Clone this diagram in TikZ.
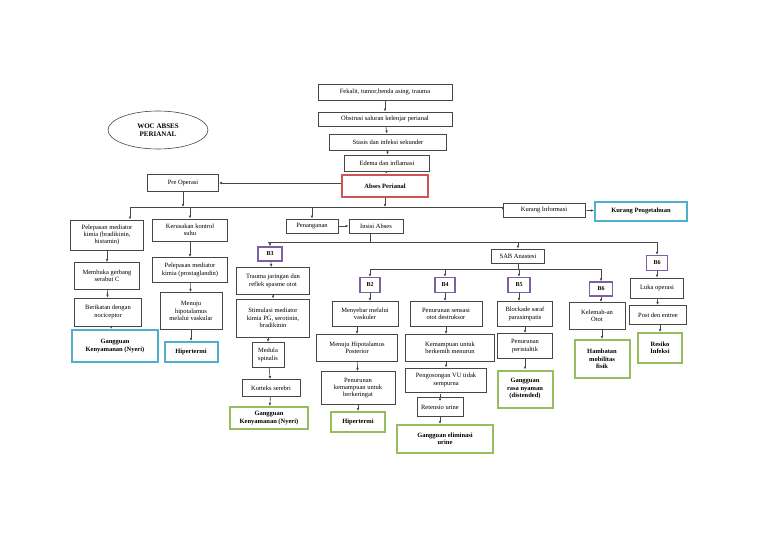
\documentclass[tikz,border=0pt]{standalone}
\usepackage{fontspec}
\setmainfont{Liberation Serif}
\usetikzlibrary{arrows.meta,shapes.geometric}
\definecolor{cyanb}{RGB}{80,175,205}
\definecolor{greenb}{RGB}{150,190,95}
\definecolor{purpb}{RGB}{125,95,165}
\definecolor{redb}{RGB}{205,85,85}
\definecolor{lineg}{RGB}{70,70,70}
\tikzset{
 bx/.style={draw=lineg,line width=0.8pt,fill=white,align=center,inner sep=1pt,font=\fontsize{6.5}{7.3}\selectfont},
 cy/.style={bx,draw=cyanb,line width=2pt,font=\fontsize{6.5}{7.5}\selectfont\bfseries},
 gr/.style={bx,draw=greenb,line width=2pt,font=\fontsize{6.5}{7.5}\selectfont\bfseries},
 bb/.style={bx,draw=purpb,line width=1.3pt,font=\fontsize{6}{7}\selectfont\bfseries},
 rd/.style={bx,draw=redb,line width=2pt,font=\fontsize{6.5}{7.5}\selectfont\bfseries},
 arr/.style={-{Latex[length=3pt,width=2.6pt]},line width=0.6pt,draw=lineg},
 ln/.style={line width=0.6pt,draw=lineg},
}
\newcommand{\bxn}[6]{\node[#1,minimum width=#4pt,minimum height=#5pt] (#2) at (#3) {#6};}
\begin{document}
\begin{tikzpicture}[x=1pt,y=-1pt]
\useasboundingbox (0,0) rectangle (768,543);
\fill[white] (0,0) rectangle (768,543);
\node[ellipse,draw=lineg,line width=0.6pt,minimum width=100pt,minimum height=38pt,align=center,font=\fontsize{7}{8}\selectfont\bfseries] (woc) at (158,130) {WOC ABSES\\PERIANAL};
\bxn{bx}{fek}{385,92}{134}{16}{Fekalit, tumor,benda asing, trauma}
\bxn{bx}{obs}{385,119}{134}{14}{Obstrusi saluran kelenjar perianal}
\bxn{bx}{sta}{388,142}{117}{16}{Stasis dan infeksi sekunder}
\bxn{bx}{ede}{387,163}{85}{16}{Edema dan inflamasi}
\bxn{rd}{abs}{385,186}{86}{22}{Abses Perianal}
\bxn{bx}{pre}{183,183}{71}{17}{Pre Operasi}
\bxn{bx}{pm1}{107,235}{73}{30}{Pelepasan mediator\\kimia (bradikinin,\\histamin)}
\bxn{bx}{kes}{190,230}{75}{22}{Kerusakan kontrol\\suhu}
\bxn{bx}{mbk}{107,276}{65}{27}{Membuka gerbang\\serabut C}
\bxn{bx}{ber}{108,312}{67}{28}{Berikatan dengan\\nociceptor}
\bxn{cy}{gk1}{115,346}{86}{32}{Gangguan\\Kenyamanan (Nyeri)}
\bxn{bx}{pm2}{190,270}{75}{25}{Pelepasan mediator\\kimia (prostaglandin)}
\bxn{bx}{mhv}{191,311}{62}{37}{Menuju\\hipotalamus\\melalui vaskular}
\bxn{cy}{hp1}{191,352}{53}{20}{Hipertermi}
\bxn{bx}{pen}{312,226}{52}{14}{Penanganan}
\bxn{bx}{ins}{376,226}{54}{14}{Insisi Abses}
\bxn{bx}{kin}{544,210}{82}{14}{Kurang Informasi}
\bxn{cy}{kpg}{641,211}{92}{19}{Kurang Pengetahuan}
\bxn{bb}{b3}{270,254}{24}{14}{B3}
\bxn{bx}{tra}{273,281}{73}{27}{Trauma jaringan dan\\reflek spasme otot}
\bxn{bx}{sti}{273,318}{73}{38}{Stimulasi mediator\\kimia PG, serotinin,\\bradikinin}
\bxn{bx}{med}{268,355}{32}{25}{Medula\\spinalis}
\bxn{bx}{kor}{271,388}{58}{17}{Korteks serebri}
\bxn{gr}{gk2}{269,418}{78}{22}{Gangguan\\Kenyamanan (Nyeri)}
\bxn{bx}{sab}{518,256}{53}{14}{SAB Anastesi}
\bxn{bb}{b2}{370,285}{20}{15}{B2}
\bxn{bx}{myb}{365,314}{66}{25}{Menyebar melalui\\vaskuler}
\bxn{bx}{mhp}{357,348}{81}{27}{Menuju Hipotalamus\\Posterior}
\bxn{bx}{pkb}{358,388}{74}{33}{Penurunan\\kemampuan untuk\\berkeringat}
\bxn{gr}{hp2}{358,422}{54}{20}{Hipertermi}
\bxn{bb}{b4}{445,285}{20}{15}{B4}
\bxn{bx}{pso}{446,314}{72}{25}{Penurunan sensasi\\otot destruksor}
\bxn{bx}{kbm}{450,348}{89}{27}{Kemampuan untuk\\berkemih menurun}
\bxn{bx}{pvu}{446,380}{81}{24}{Pengosongan VU tidak\\sempurna}
\bxn{bx}{ret}{440,407}{46}{19}{Retensio urine}
\bxn{gr}{gel}{445,439}{96}{28}{Gangguan eliminasi\\urine}
\bxn{bb}{b5}{519,285}{22}{15}{B5}
\bxn{bx}{blo}{525,314}{55}{25}{Blockade saraf\\parasimpatis}
\bxn{bx}{ppr}{525,346}{55}{25}{Penurunan\\peristaltik}
\bxn{gr}{grn}{525,389}{55}{37}{Gangguan\\rasa nyaman\\(distended)}
\bxn{bb}{b6a}{601,289}{23}{14}{B6}
\bxn{bx}{kel}{597,316}{56}{27}{Kelemah-an\\Otot}
\bxn{gr}{ham}{602,359}{55}{38}{Hambatan\\mobilitas\\fisik}
\bxn{bb}{b6b}{657,263}{21}{15}{B6}
\bxn{bx}{luk}{657,288}{53}{20}{Luka operasi}
\bxn{bx}{pde}{658,315}{57}{19}{Post den entree}
\bxn{gr}{rin}{660,348}{44}{30}{Resiko\\Infeksi}
% top chain
\draw[arr] (fek) -- (obs);
\draw[arr] (obs) -- (sta);
\draw[arr] (sta) -- (ede);
\draw[arr] (ede) -- (abs);
\draw[arr] (abs.west |- pre) -- (pre.east);
% main bus
\coordinate (bL) at (130,207);
\coordinate (bR) at (kin.west |- 0,207);
\draw[ln] (bL) -- (bR);
\draw[arr] (kin.west |- 0,207) -- (kin.west);
\draw[arr] (abs.south) -- (abs.south |- bL);
\draw[arr] (pre.south) -- (pre.south |- bL);
\draw[arr] (bL) -- (bL |- pm1.north);
\draw[arr] (kes.north |- bL) -- (kes.north);
\draw[arr] (pen.north |- bL) -- (pen.north);
\draw[arr] (pen) -- (ins);
\draw[arr] (kin) -- (kpg);
% left columns
\draw[arr] (pm1) -- (mbk);
\draw[arr] (mbk) -- (ber);
\draw[arr] (ber) -- (gk1);
\draw[arr] (kes) -- (pm2);
\draw[arr] (pm2) -- (mhv);
\draw[arr] (mhv) -- (hp1);
% bus 2
\coordinate (c1) at (268,242);
\coordinate (c2) at (657,242);
\draw[ln] (ins.south -| 370,0) -- (370,242);
\draw[ln] (c1) -- (c2);
\draw[arr] (b3.north |- c1) -- (b3.north);
\draw[arr] (sab.north |- c1) -- (sab.north);
\draw[arr] (b6b.north |- c1) -- (b6b.north);
\draw[arr] (b3) -- (tra);
\draw[arr] (tra) -- (sti);
\draw[arr] (sti.south -| med) -- (med);
\draw[arr] (med) -- (kor);
\draw[arr] (kor) -- (gk2);
% bus 3
\coordinate (d1) at (370,269);
\coordinate (d2) at (601,269);
\draw[ln] (sab) -- (sab |- d1);
\draw[ln] (d1) -- (d2);
\draw[arr] (b2.north |- d1) -- (b2.north);
\draw[arr] (b4.north |- d1) -- (b4.north);
\draw[arr] (b5.north |- d1) -- (b5.north);
\draw[arr] (b6a.north |- d1) -- (b6a.north);
\draw[arr] (b2) -- (b2 |- myb.north);
\draw[arr] (myb.south -| mhp) -- (mhp);
\draw[arr] (mhp) -- (pkb);
\draw[arr] (pkb) -- (hp2);
\draw[arr] (b4) -- (b4 |- pso.north);
\draw[arr] (pso) -- (pso |- kbm.north);
\draw[arr] (kbm.south -| pvu) -- (pvu);
\draw[arr] (ret.north -| 440,0) -- (ret.north);
\draw[arr] (ret) -- (ret |- gel.north);
\draw[arr] (b5) -- (b5 |- blo.north);
\draw[arr] (blo) -- (ppr);
\draw[arr] (ppr) -- (grn);
\draw[arr] (b6a) -- (b6a |- kel.north);
\draw[arr] (kel.south -| ham) -- (ham);
\draw[arr] (b6b) -- (luk);
\draw[arr] (luk) -- (pde);
\draw[arr] (pde.south -| rin) -- (rin);
\end{tikzpicture}
\end{document}
